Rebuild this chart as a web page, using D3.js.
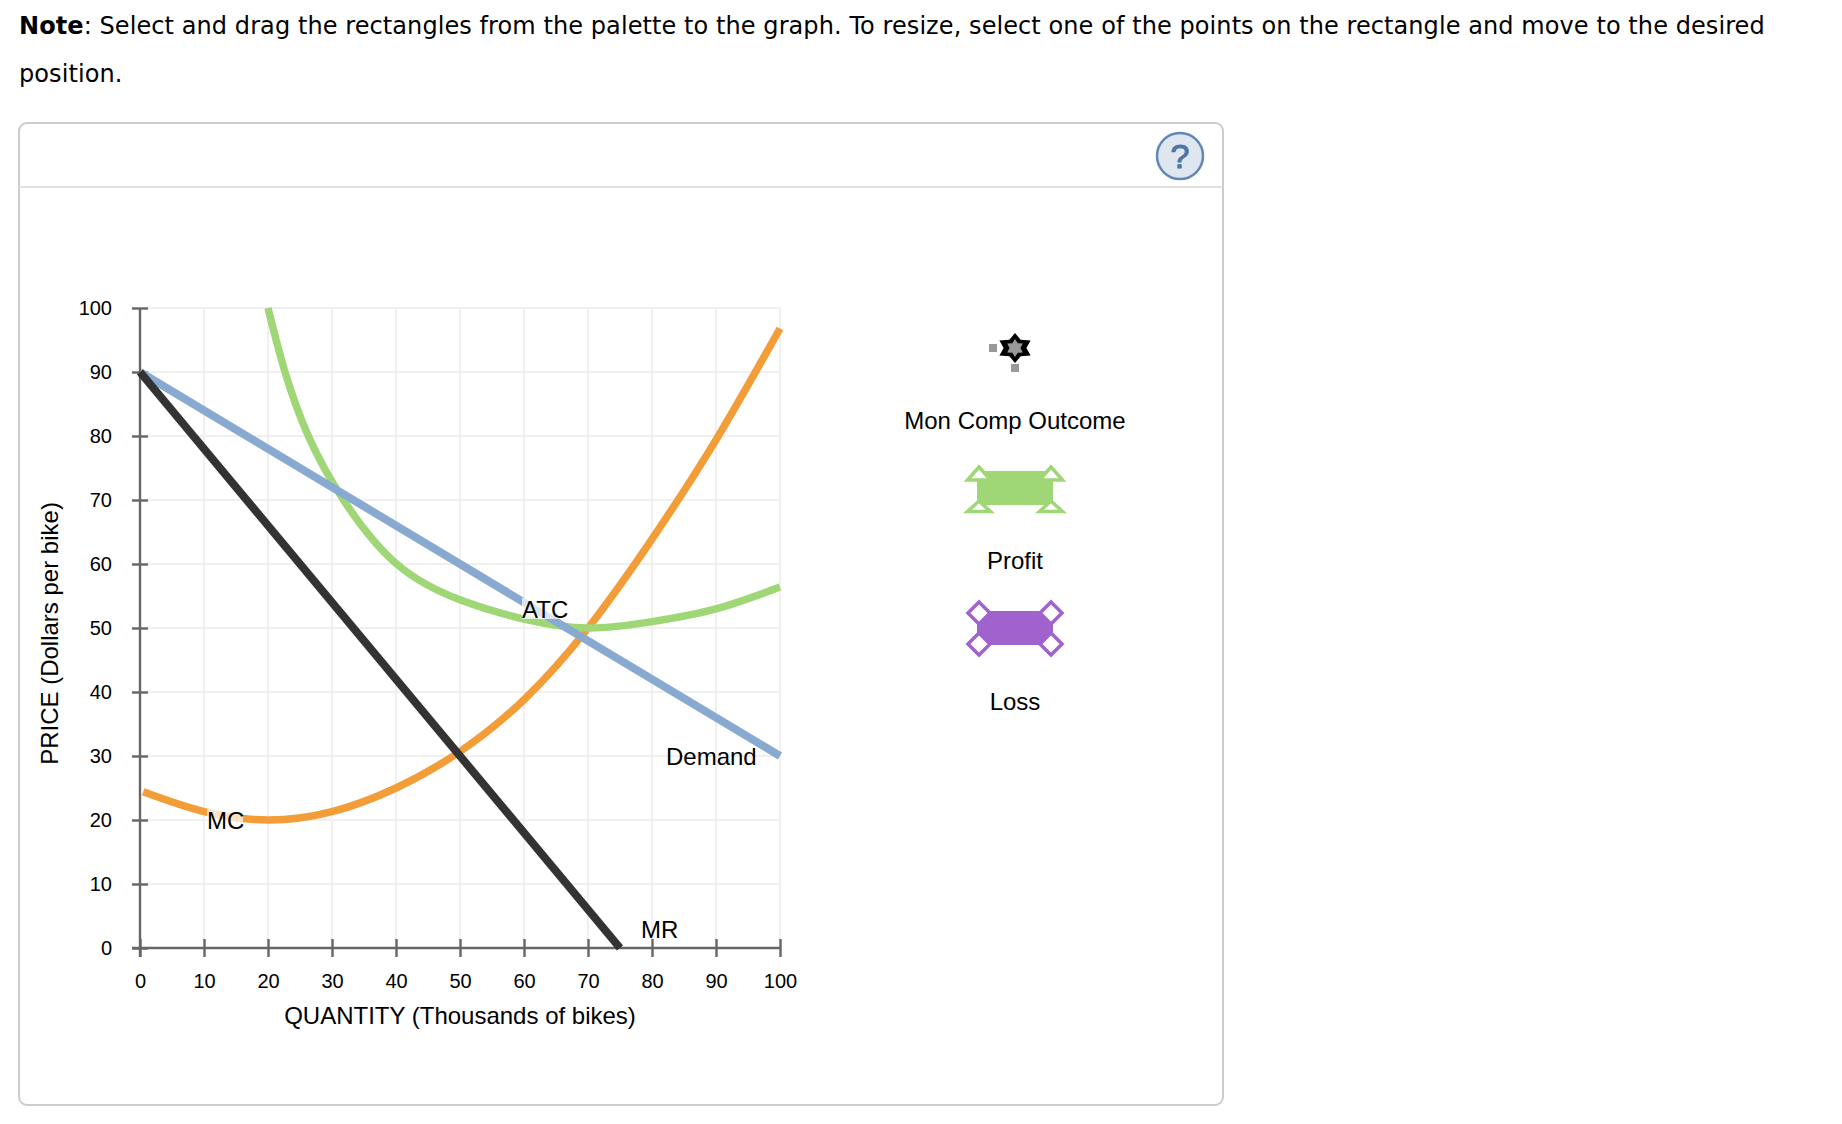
<!DOCTYPE html>
<html>
  <head>
    <meta charset="utf-8">
    <title>Mon Comp Outcome</title>
    <script src="https://d3js.org/d3.v7.min.js"></script>
    <style>
      body { margin: 0; background: #fff; }
      text { font-family: "Liberation Sans", Arial, sans-serif; fill: #000; }
      .note { font-family: "DejaVu Sans", Verdana, sans-serif; font-size: 24px; letter-spacing: 0.08px; }
      .grid line { stroke: #f0f0f0; stroke-width: 2; }
      .axis path, .axis line { stroke: #666; stroke-width: 2.4; }
      .axis text { font-size: 20px; font-family: "Liberation Sans", Arial, sans-serif; fill: #000; }
      .curve { fill: none; stroke-width: 7.5; }
      .curve.heavy { stroke-width: 8; }
      .label { font-size: 24px; }
    </style>
  </head>
  <body>
    <script>
      var xTicks = [0, 10, 20, 30, 40, 50, 60, 70, 80, 90, 100];
      var yTicks = [0, 10, 20, 30, 40, 50, 60, 70, 80, 90, 100];

      var mcQ = [0.5, 10, 20, 30, 40, 50, 60, 70, 80, 90, 100];
      var mcP = [24.4, 21.3, 20, 21.3, 25, 30.7, 38.8, 50, 63.9, 79.4, 96.8];

      var atcQ = [20, 22.66, 26.3, 31.8, 40.1, 50, 60, 70, 80, 90, 100];
      var atcP = [100, 90, 80, 70, 60, 54.4, 51.4, 50, 51, 53, 56.4];

      var demandQ = [0, 100];
      var demandP = [90, 30];

      var mrQ = [0, 75];
      var mrP = [90, 0];

      var paletteNames = ["Mon Comp Outcome", "Profit", "Loss"];

      var width = 1842;
      var height = 1124;

      var svg = d3.select("body").append("svg")
          .attr("width", width)
          .attr("height", height);

      // instructions
      var note = svg.append("text").attr("class", "note").attr("x", 19).attr("y", 34);
      note.append("tspan").style("font-weight", "bold").text("Note");
      note.append("tspan").text(": Select and drag the rectangles from the palette to the graph. To resize, select one of the points on the rectangle and move to the desired");
      svg.append("text").attr("class", "note").attr("x", 19).attr("y", 82).text("position.");

      // panel
      svg.append("rect")
          .attr("x", 19).attr("y", 123)
          .attr("width", 1204).attr("height", 982)
          .attr("rx", 8)
          .attr("fill", "#fff")
          .attr("stroke", "#ccc")
          .attr("stroke-width", 2);
      svg.append("line")
          .attr("x1", 19).attr("x2", 1223)
          .attr("y1", 187).attr("y2", 187)
          .attr("stroke", "#e0e0e0")
          .attr("stroke-width", 2);

      // help button
      svg.append("circle")
          .attr("cx", 1180).attr("cy", 156).attr("r", 23)
          .attr("fill", "#dfe6ef")
          .attr("stroke", "#5f88b5")
          .attr("stroke-width", 2.5);
      svg.append("text")
          .attr("x", 1180).attr("y", 168)
          .attr("text-anchor", "middle")
          .style("font-size", "34px")
          .style("fill", "#4a76a8")
          .style("stroke", "#4a76a8")
          .style("stroke-width", 1)
          .text("?");

      var xScale = d3.scaleLinear().domain([0, 100]).range([140, 780]);
      var yScale = d3.scaleLinear().domain([0, 100]).range([948, 308]);

      // grid
      var grid = svg.append("g").attr("class", "grid");
      grid.selectAll("line.v").data(xTicks.slice(1)).enter().append("line")
          .attr("x1", function(d) { return xScale(d); })
          .attr("x2", function(d) { return xScale(d); })
          .attr("y1", yScale(100))
          .attr("y2", yScale(0));
      grid.selectAll("line.h").data(yTicks.slice(1)).enter().append("line")
          .attr("x1", xScale(0))
          .attr("x2", xScale(100))
          .attr("y1", function(d) { return yScale(d); })
          .attr("y2", function(d) { return yScale(d); });

      // axes, ticks cross the axis line
      var xAxis = d3.axisBottom(xScale).tickValues(xTicks).tickSize(18).tickPadding(8).tickSizeOuter(0);
      var xG = svg.append("g").attr("class", "axis")
          .attr("transform", "translate(0," + yScale(0) + ")")
          .call(xAxis);
      xG.selectAll(".tick line").attr("y1", -9).attr("y2", 9);
      xG.select("path").attr("d", "M132,0H" + xScale(100));

      var yAxis = d3.axisLeft(yScale).tickValues(yTicks).tickSize(16).tickPadding(12).tickSizeOuter(0);
      var yG = svg.append("g").attr("class", "axis")
          .attr("transform", "translate(" + xScale(0) + ",0)")
          .call(yAxis);
      yG.selectAll(".tick line").attr("x1", -8).attr("x2", 8);
      yG.select("path").attr("d", "M0," + yScale(100) + "V957");

      svg.append("text")
          .attr("x", xScale(50)).attr("y", 1024)
          .attr("text-anchor", "middle")
          .style("font-size", "24px")
          .text("QUANTITY (Thousands of bikes)");
      svg.append("text")
          .attr("transform", "translate(58,633.5) rotate(-90)")
          .attr("text-anchor", "middle")
          .style("font-size", "24px")
          .text("PRICE (Dollars per bike)");

      // curves
      function pairs(qs, ps) {
        return qs.map(function(q, i) { return [q, ps[i]]; });
      }
      var smooth = d3.line()
          .x(function(d) { return xScale(d[0]); })
          .y(function(d) { return yScale(d[1]); })
          .curve(d3.curveNatural);
      var straight = d3.line()
          .x(function(d) { return xScale(d[0]); })
          .y(function(d) { return yScale(d[1]); });

      svg.append("path").attr("class", "curve").attr("stroke", "#f39d38").attr("d", smooth(pairs(mcQ, mcP)));
      svg.append("path").attr("class", "curve").attr("stroke", "#9fd776").attr("d", smooth(pairs(atcQ, atcP)));
      svg.append("path").attr("class", "curve heavy").attr("stroke", "#88a9d0").attr("d", straight(pairs(demandQ, demandP)));
      svg.append("path").attr("class", "curve heavy").attr("stroke", "#333").attr("d", straight(pairs(mrQ, mrP)));

      // curve labels, the box fades whatever runs under it
      function curveLabel(name, x, y, boxWidth) {
        svg.append("rect")
            .attr("x", x).attr("y", y - 20)
            .attr("width", boxWidth).attr("height", 21)
            .attr("fill", "#fff")
            .attr("fill-opacity", 0.7);
        svg.append("text").attr("class", "label").attr("x", x).attr("y", y).text(name);
      }
      curveLabel("ATC", 522, 618, 46);
      curveLabel("MC", 207, 829, 36);
      curveLabel("Demand", 666, 765, 0);
      curveLabel("MR", 641, 938, 0);

      // palette
      var cx = 1015;
      function starPath(outer, inner) {
        return d3.lineRadial()
            .angle(function(d, i) { return i * Math.PI / 6; })
            .radius(function(d, i) { return i % 2 ? inner : outer; })
            .curve(d3.curveLinearClosed)(d3.range(12));
      }
      svg.append("path")
          .attr("transform", "translate(" + cx + ",348) scale(1.2,1)")
          .attr("d", starPath(15, 9.5))
          .attr("fill", "#000");
      svg.append("path")
          .attr("transform", "translate(" + cx + ",348)")
          .attr("d", starPath(9, 5.5))
          .attr("fill", "#999");
      svg.append("rect").attr("x", 989).attr("y", 344).attr("width", 8).attr("height", 8).attr("fill", "#999");
      svg.append("rect").attr("x", 1011).attr("y", 364).attr("width", 8).attr("height", 8).attr("fill", "#999");

      var labelY = [429, 569, 710];
      svg.selectAll("text.palette").data(paletteNames).enter().append("text")
          .attr("class", "palette label")
          .attr("x", cx)
          .attr("y", function(d, i) { return labelY[i]; })
          .attr("text-anchor", "middle")
          .text(function(d) { return d; });

      // profit rectangle with triangle handles
      svg.append("rect").attr("x", 977).attr("y", 471).attr("width", 76).attr("height", 34).attr("fill", "#9fd776");
      [[979, 468], [1051, 468], [979, 501], [1051, 501]].forEach(function(p) {
        var top = p[1] === 468;
        svg.append("path")
            .attr("transform", "translate(" + p[0] + "," + p[1] + ")")
            .attr("d", top ? "M0,-1L11.5,12H-11.5Z" : "M0,0L11.5,10.5H-11.5Z")
            .attr("fill", "#fff")
            .attr("stroke", "#9fd776")
            .attr("stroke-width", 3.5);
      });

      // loss rectangle with diamond handles
      svg.append("rect").attr("x", 977).attr("y", 611).attr("width", 76).attr("height", 34).attr("fill", "#a062cc");
      [[979, 613], [1051, 613], [979, 644], [1051, 644]].forEach(function(p) {
        svg.append("path")
            .attr("transform", "translate(" + p[0] + "," + p[1] + ")")
            .attr("d", "M0,-11L11,0L0,11L-11,0Z")
            .attr("fill", "#fff")
            .attr("stroke", "#a062cc")
            .attr("stroke-width", 3.5);
      });
    </script>
  </body>
</html>
